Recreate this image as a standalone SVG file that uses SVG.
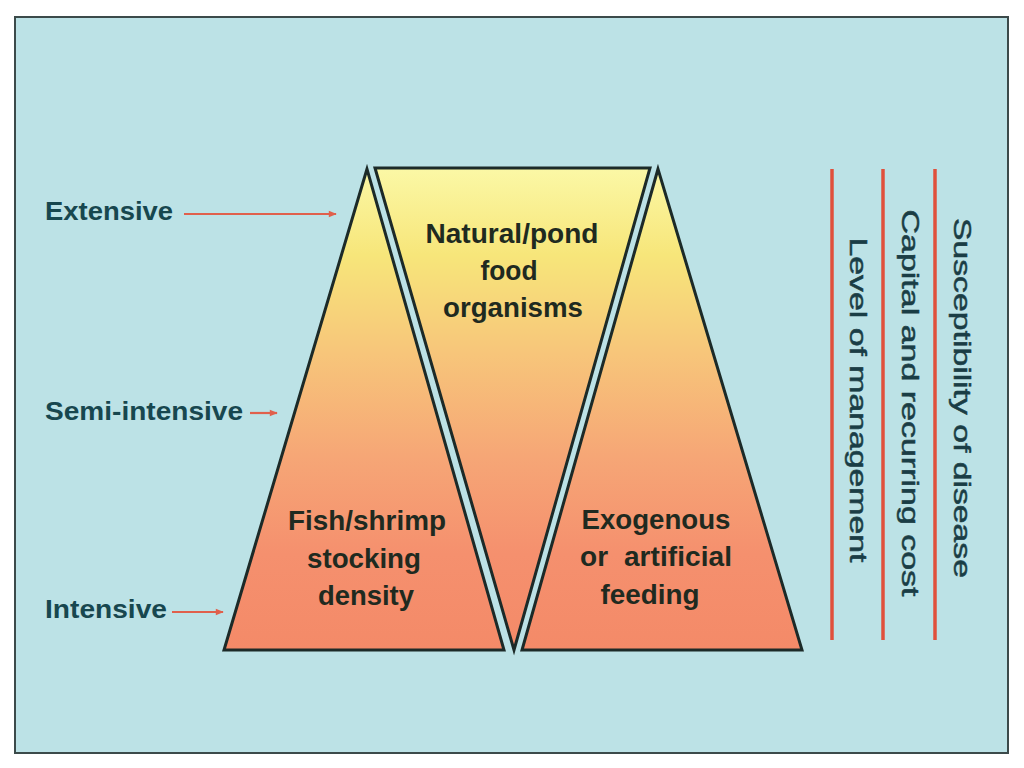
<svg xmlns="http://www.w3.org/2000/svg" width="1024" height="768" viewBox="0 0 1024 768">
<defs>
<linearGradient id="warm" gradientUnits="userSpaceOnUse" x1="0" y1="168" x2="0" y2="650">
<stop offset="0" stop-color="#fbf8a6"/>
<stop offset="0.18" stop-color="#f7e67a"/>
<stop offset="0.38" stop-color="#f7c67a"/>
<stop offset="0.6" stop-color="#f6a676"/>
<stop offset="0.8" stop-color="#f5906e"/>
<stop offset="1" stop-color="#f48a68"/>
</linearGradient>
<marker id="arr" viewBox="0 0 10 10" refX="9" refY="5" markerWidth="9" markerHeight="8" markerUnits="userSpaceOnUse" orient="auto">
<path d="M0,1 L10,5 L0,9 z" fill="#e0604c"/>
</marker>
<style>
.shape{fill:url(#warm);stroke:#1c2a28;stroke-width:3;stroke-linejoin:miter}
.lvl{font-family:"Liberation Sans",Arial,sans-serif;font-weight:bold;font-size:26px;fill:#17474f}
.inner{font-family:"Liberation Sans",Arial,sans-serif;font-weight:bold;font-size:28px;fill:#1f2a20;text-anchor:middle}
.vert{font-family:"Liberation Sans",Arial,sans-serif;font-size:24px;fill:#1a3d45;stroke:#1a3d45;stroke-width:0.5;text-anchor:middle}
.arrow{stroke:#e0604c;stroke-width:2.2;fill:none}
.axis{stroke:#e0503c;stroke-width:3.5}
</style>
</defs>
<rect x="0" y="0" width="1024" height="768" fill="#ffffff"/>
<rect x="15" y="17" width="993" height="736" fill="#bce2e6" stroke="#3c4a4a" stroke-width="2"/>

<g id="node-stocking">
<polygon class="shape" points="367,169 224,650 504,650"/>
<text class="inner" x="367" y="530" textLength="158" lengthAdjust="spacingAndGlyphs">Fish/shrimp</text>
<text class="inner" x="364" y="568" textLength="114" lengthAdjust="spacingAndGlyphs">stocking</text>
<text class="inner" x="366" y="605" textLength="96" lengthAdjust="spacingAndGlyphs">density</text>
</g>
<g id="node-natural">
<polygon class="shape" points="375,168 650,168 514,650"/>
<text class="inner" x="512" y="243" textLength="173" lengthAdjust="spacingAndGlyphs">Natural/pond</text>
<text class="inner" x="509" y="280" textLength="57" lengthAdjust="spacingAndGlyphs">food</text>
<text class="inner" x="513" y="317" textLength="140" lengthAdjust="spacingAndGlyphs">organisms</text>
</g>
<g id="node-feeding">
<polygon class="shape" points="658,169 522,650 802,650"/>
<text class="inner" x="656" y="529" textLength="149" lengthAdjust="spacingAndGlyphs">Exogenous</text>
<text class="inner" x="656" y="566" textLength="152" lengthAdjust="spacing" xml:space="preserve">or  artificial</text>
<text class="inner" x="650" y="604" textLength="99" lengthAdjust="spacingAndGlyphs">feeding</text>
</g>

<g id="label-extensive">
<text class="lvl" x="45" y="220" textLength="128" lengthAdjust="spacingAndGlyphs">Extensive</text>
</g>
<g id="label-semi-intensive">
<text class="lvl" x="45" y="420" textLength="198" lengthAdjust="spacingAndGlyphs">Semi-intensive</text>
</g>
<g id="label-intensive">
<text class="lvl" x="45" y="618" textLength="122" lengthAdjust="spacingAndGlyphs">Intensive</text>
</g>

<g id="connectors">
<line class="arrow" x1="184" y1="214" x2="336" y2="214" marker-end="url(#arr)"/>
<line class="arrow" x1="250" y1="413" x2="277" y2="413" marker-end="url(#arr)"/>
<line class="arrow" x1="172" y1="612" x2="223" y2="612" marker-end="url(#arr)"/>
</g>

<g id="axis-management">
<line class="axis" x1="832" y1="169" x2="832" y2="640"/>
<text class="vert" transform="translate(850,400) rotate(90)" textLength="325" lengthAdjust="spacingAndGlyphs">Level of management</text>
</g>
<g id="axis-cost">
<line class="axis" x1="883" y1="169" x2="883" y2="640"/>
<text class="vert" transform="translate(902,403) rotate(90)" textLength="387" lengthAdjust="spacingAndGlyphs">Capital and recurring cost</text>
</g>
<g id="axis-disease">
<line class="axis" x1="935" y1="169" x2="935" y2="640"/>
<text class="vert" transform="translate(954,398) rotate(90)" textLength="360" lengthAdjust="spacingAndGlyphs">Susceptibility of disease</text>
</g>
</svg>
